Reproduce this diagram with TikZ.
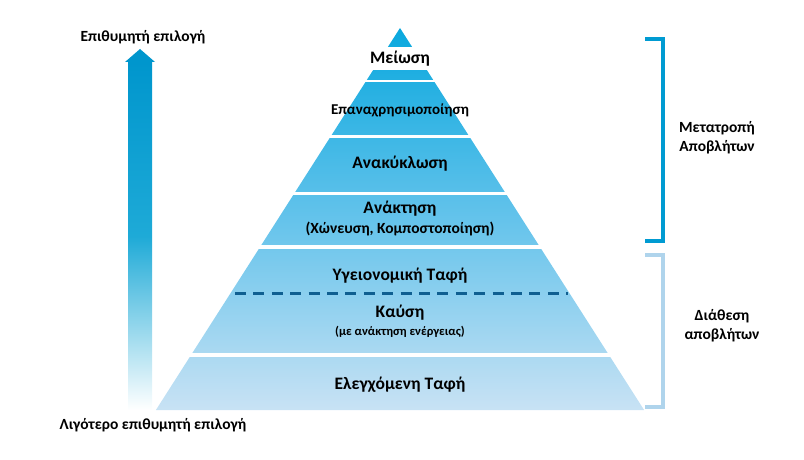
\documentclass[tikz,border=0pt]{standalone}
\usepackage{fontspec}
\setmainfont{Carlito}[BoldFont={Carlito Bold}]
\definecolor{ptop}{RGB}{10,168,222}
\definecolor{pmid}{RGB}{100,195,235}
\definecolor{pbot}{RGB}{200,226,244}
\definecolor{adark}{RGB}{0,150,205}
\definecolor{amid}{RGB}{30,170,215}
\definecolor{brdark}{RGB}{0,155,210}
\definecolor{brlight}{RGB}{175,212,236}
\definecolor{dashc}{RGB}{15,95,145}
\tikzset{
  lbl/.style={font=\bfseries\fontsize{17.5}{20}\selectfont, text=black, inner sep=0pt, align=center},
  sublbl/.style={font=\bfseries\fontsize{12.5}{14}\selectfont, text=black, inner sep=0pt, align=center},
  sidelbl/.style={font=\bfseries\fontsize{15.5}{19}\selectfont, text=black, inner sep=0pt, align=center},
  gap/.style={fill=white, draw=none},
  bracket/.style={line width=4pt, line cap=butt, line join=miter}
}
\begin{document}
\begin{tikzpicture}[x=1pt,y=-1pt]
\useasboundingbox (0,0) rectangle (804,460);
% pyramid
\shade[top color=ptop, bottom color=pbot, middle color=pmid, shading angle=0]
  (400,28) -- (644.1,410) -- (155.9,410) -- cycle;
% white gaps
\fill[gap] (300,47) rectangle (500,70);
\fill[gap] (300,80) rectangle (500,82.5);
\fill[gap] (250,135) rectangle (550,138);
\fill[gap] (250,192) rectangle (550,195);
\fill[gap] (200,245) rectangle (600,249);
\fill[gap] (170,353) rectangle (630,357);
% dashed line
\draw[dashc, line width=3pt, dash pattern=on 11pt off 7.4pt] (235,293) -- (568,293);
% pyramid labels
\node[lbl] (meiosi) at (400,59) {Μείωση};
\node[lbl, font=\bfseries\fontsize{15}{17}\selectfont] (epanax) at (400,110) {Επαναχρησιμοποίηση};
\node[lbl] (anakykl) at (400,164) {Ανακύκλωση};
\node[lbl] (anaktisi) at (400,209) {Ανάκτηση};
\node[sublbl, font=\bfseries\fontsize{15.5}{17}\selectfont] (anaktisisub) at (400,229) {(Χώνευση, Κομποστοποίηση)};
\node[lbl] (taf) at (400,276) {Υγειονομική Ταφή};
\node[lbl] (kausi) at (400,313) {Καύση};
\node[sublbl] (kausisub) at (400,332) {(με ανάκτηση ενέργειας)};
\node[lbl] (elegx) at (400,385) {Ελεγχόμενη Ταφή};
% left arrow
\shade[top color=adark, bottom color=white, middle color=amid]
  (128,62) -- (152,62) -- (152,410) -- (128,410) -- cycle;
\fill[adark] (125,62) -- (140,49) -- (155,62) -- cycle;
\node[sidelbl] (desired) at (143,37) {Επιθυμητή επιλογή};
\node[sidelbl] (lessdesired) at (153,425) {Λιγότερο επιθυμητή επιλογή};
% right brackets
\draw[bracket, brdark] (645,39) -- (663,39) -- (663,241) -- (645,241);
\draw[bracket, brlight] (645,255) -- (663,255) -- (663,407) -- (645,407);
\node[sidelbl] (metatropi) at (717,138) {Μετατροπή\\Αποβλήτων};
\node[sidelbl] (diathesi) at (722,326) {Διάθεση\\αποβλήτων};
\end{tikzpicture}
\end{document}
